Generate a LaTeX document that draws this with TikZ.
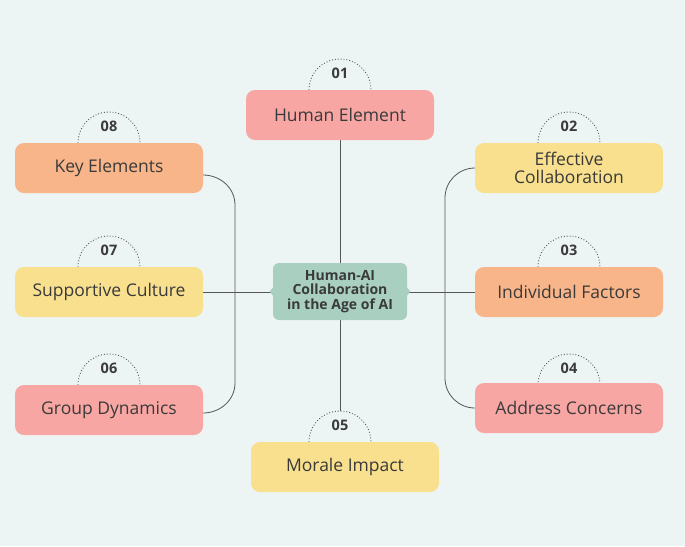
\documentclass[tikz,border=0pt]{standalone}
\usepackage{fontspec}
\setmainfont{Open Sans}
\definecolor{bg}{HTML}{EDF5F4}
\definecolor{cpink}{HTML}{F7A6A3}
\definecolor{corange}{HTML}{F8B589}
\definecolor{cyellow}{HTML}{F8E08E}
\definecolor{cgreen}{HTML}{A8CFC0}
\definecolor{txt}{HTML}{3A3A3A}
\definecolor{ln}{HTML}{555555}
\begin{document}
\begin{tikzpicture}[x=1pt,y=-1pt,
  box/.style={rounded corners=9pt,minimum width=188pt,minimum height=50pt,inner sep=2pt,text=txt,font=\fontsize{17.5}{18}\selectfont,align=center},
  conn/.style={draw=ln,line width=0.8pt},
  dots/.style={draw=ln,dotted,line width=0.9pt},
  num/.style={text=txt,font=\bfseries\fontsize{14.5}{14}\selectfont}]
\fill[bg] (0,0) rectangle (685,546);
\useasboundingbox (0,0) rectangle (685,546);
% dotted arcs
\foreach \x/\y/\n in {340/90/01,569/143/02,569/267/03,569/385/04,340/442/05,109/385/06,109/267/07,109/143/08}{
  \draw[dots] (\x-31,\y) arc[start angle=180,end angle=360,radius=31];
  \node[num] (n\n) at (\x,\y-17) {\n};
}
% connectors
\draw[conn] (340,140) -- (340,411);
\draw[conn] (203,292) -- (475,292);
\draw[conn] (203,175) to[out=0,in=90] (235,205) -- (235,383) to[out=-90,in=0] (203,413);
\draw[conn] (475,168) to[out=180,in=90] (445,198) -- (445,378) to[out=-90,in=180] (475,408);
% boxes
\node[box,fill=cpink] (he) at (340,115) {Human Element};
\node[box,fill=corange] (ke) at (109,168) {Key Elements};
\node[box,fill=cyellow] (sc) at (109,292) {Supportive Culture};
\node[box,fill=cpink] (gd) at (109,410) {Group Dynamics};
\node[box,fill=cyellow] (ec) at (569,168) {Effective\\Collaboration};
\node[box,fill=corange] (if) at (569,292) {Individual Factors};
\node[box,fill=cpink] (ac) at (569,408) {Address Concerns};
\node[box,fill=cyellow] (mi) at (345,467) {Morale Impact};
\node[fill=cgreen,rounded corners=6pt,minimum width=134pt,minimum height=57pt,inner sep=1pt,text=txt,align=center,font=\bfseries\fontsize{14}{14.5}\selectfont] (c) at (340,291.5) {Human-AI\\Collaboration\\in the Age of AI};
\fill[cgreen] (c.west)++(0,-4) -- ++(-3,4) -- ++(3,4) -- cycle;
\fill[cgreen] (c.east)++(0,-4) -- ++(3,4) -- ++(-3,4) -- cycle;
\end{tikzpicture}
\end{document}
